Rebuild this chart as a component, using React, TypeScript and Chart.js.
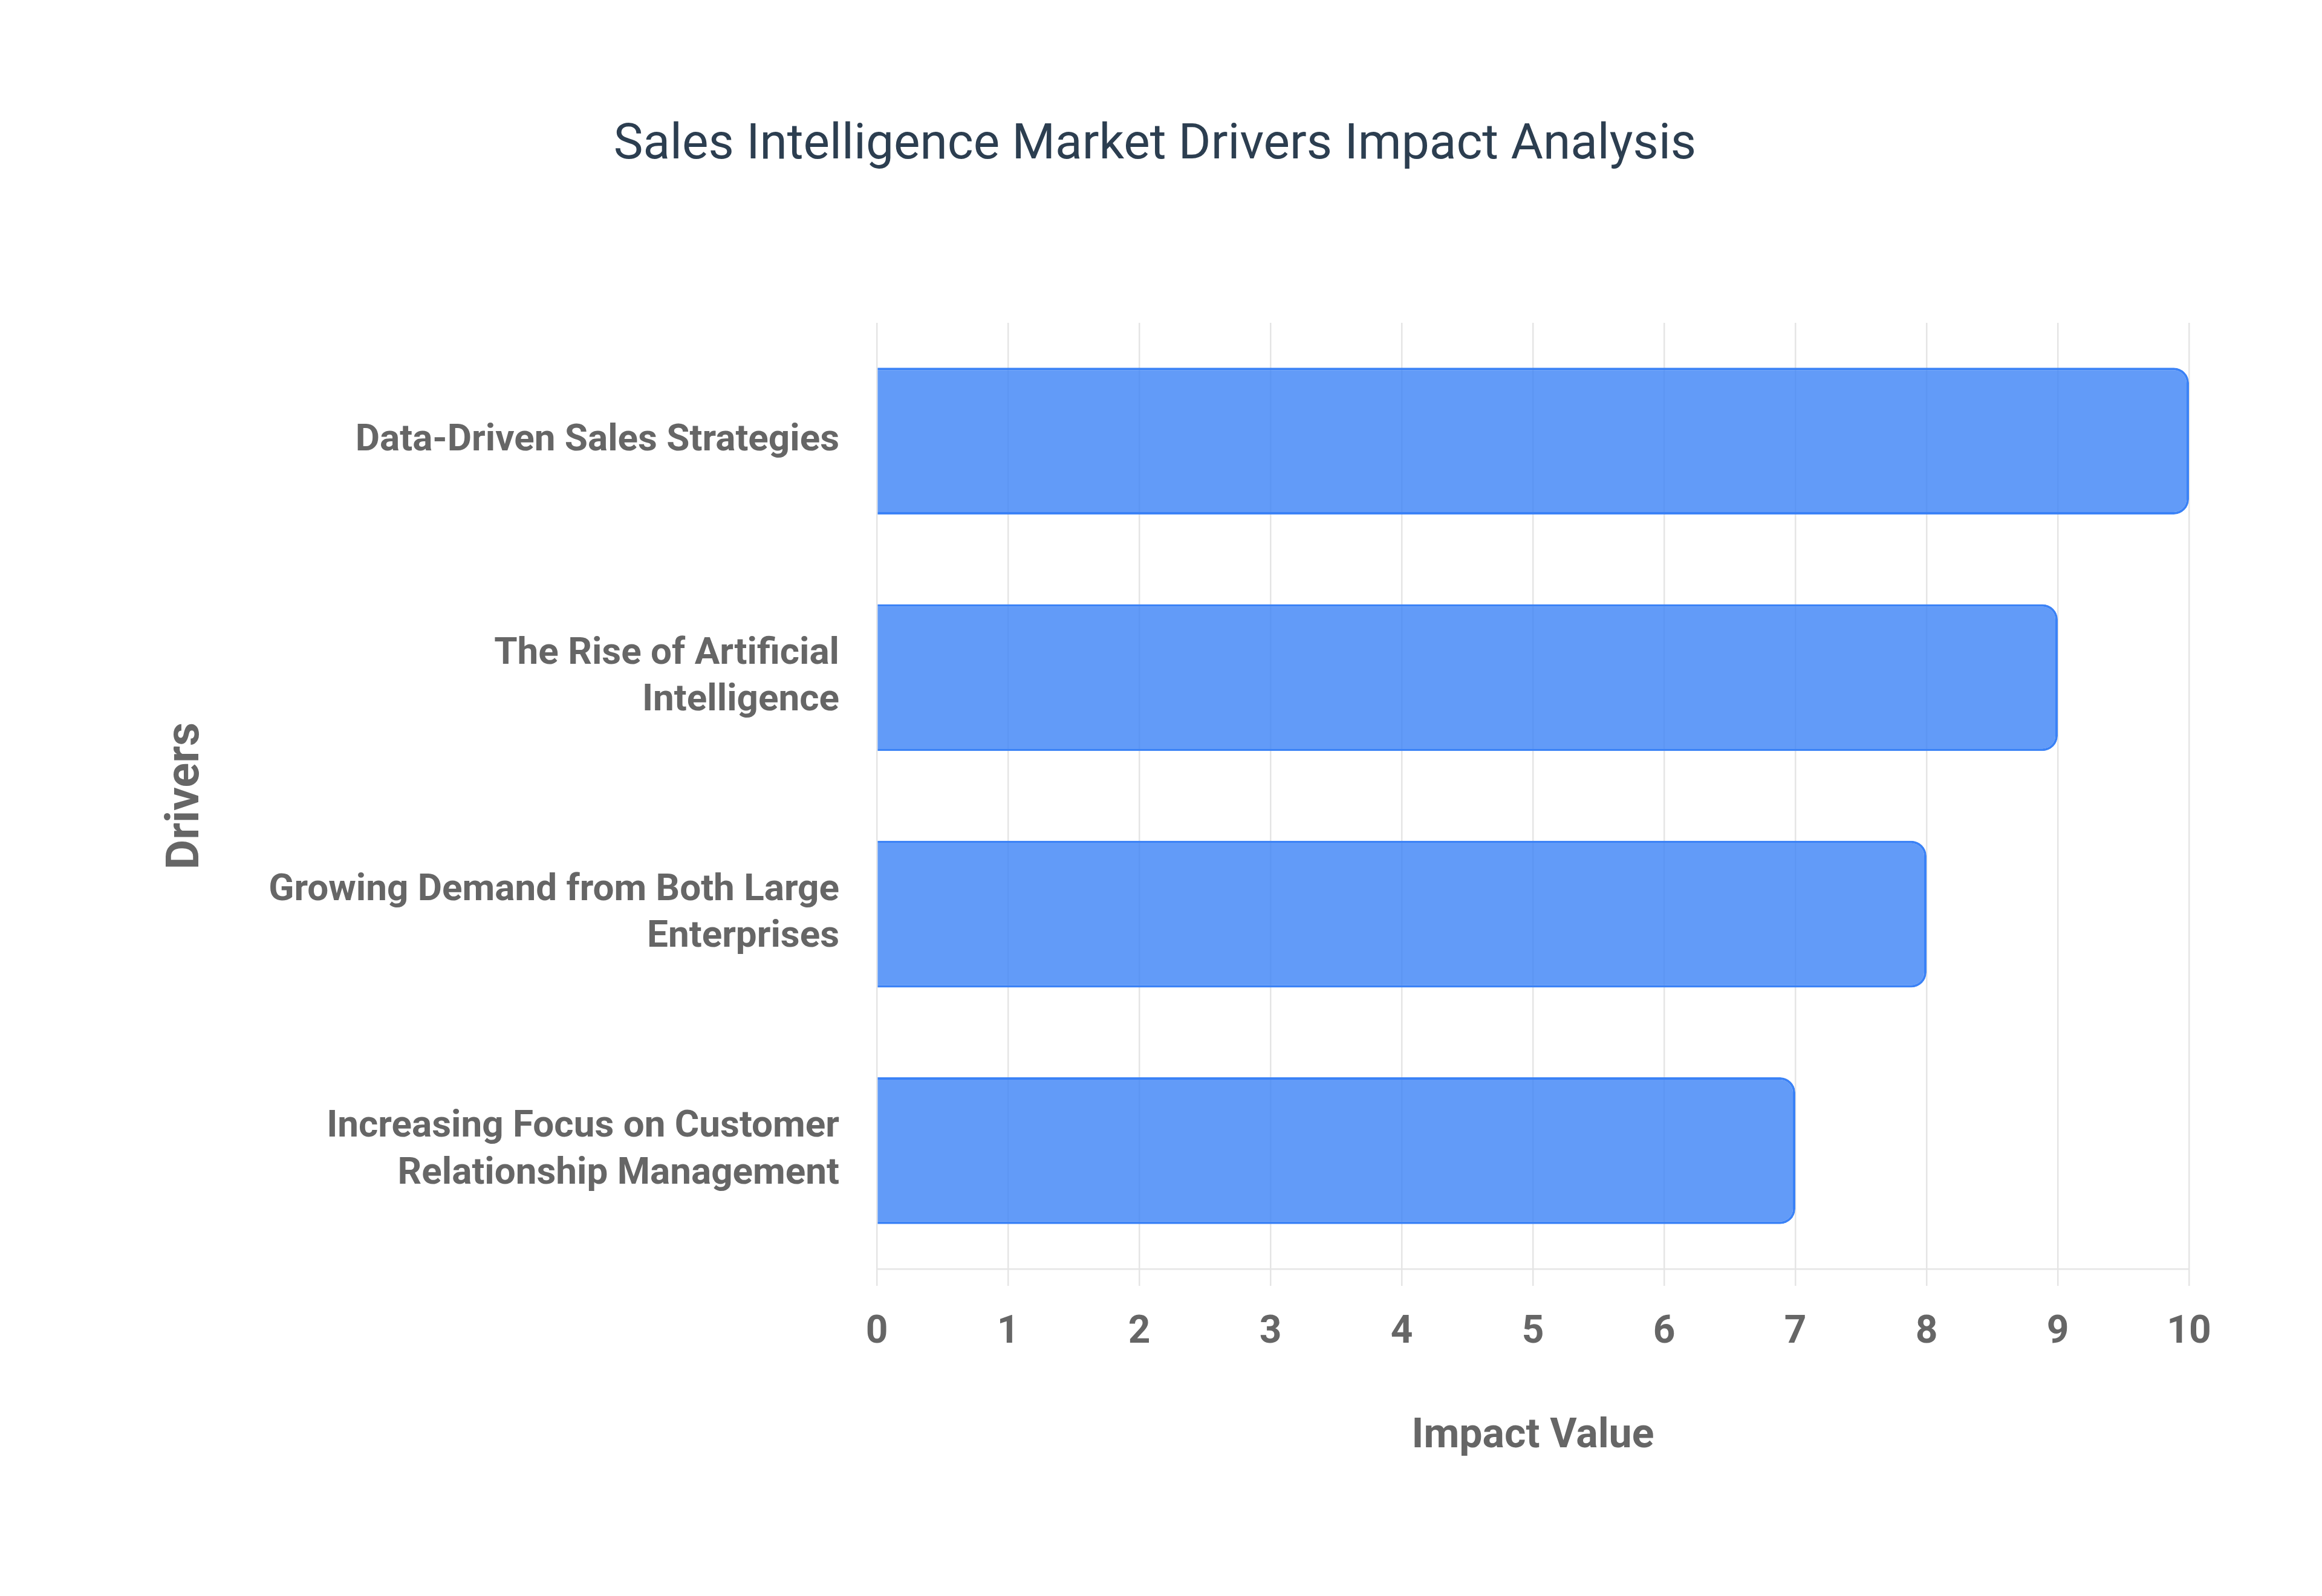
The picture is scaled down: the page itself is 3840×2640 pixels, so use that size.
import React, { useEffect, useRef } from "react";
import { Chart, registerables } from "chart.js";

Chart.register(...registerables);

const chartTitle = "Sales Intelligence Market Drivers Impact Analysis";
const categories: string[][] = [
  ["Data-Driven Sales Strategies"],
  ["The Rise of Artificial", "Intelligence"],
  ["Growing Demand from Both Large", "Enterprises"],
  ["Increasing Focus on Customer", "Relationship Management"],
];
const impactValues: number[] = [10, 9, 8, 7];
const xAxisTitle = "Impact Value";
const yAxisTitle = "Drivers";
const xMin = 0;
const xMax = 10;
const xStep = 1;

export default function App() {
  const canvasRef = useRef<HTMLCanvasElement | null>(null);

  useEffect(() => {
    document.body.style.margin = "0";
    const canvas = canvasRef.current;
    if (!canvas) return;
    const chart = new Chart(canvas, {
      type: "bar",
      data: {
        labels: categories,
        datasets: [
          {
            label: "Impact Value",
            data: impactValues,
            backgroundColor: "rgba(59,130,246,0.8)",
            borderColor: "#3b82f6",
            borderWidth: 4,
            borderRadius: 25,
            borderSkipped: "start",
            barPercentage: 0.62,
            categoryPercentage: 1,
          },
        ],
      },
      options: {
        indexAxis: "y",
        animation: false,
        responsive: false,
        devicePixelRatio: 1,
        layout: { padding: { left: 200, right: 220, top: 120, bottom: 100 } },
        plugins: {
          legend: { display: false },
          tooltip: { enabled: false },
          title: {
            display: true,
            text: chartTitle,
            color: "#2c3e50",
            font: { family: "Roboto", size: 82, weight: "normal", lineHeight: 1.2 },
            padding: { top: 72, bottom: 243.6 },
          },
        },
        scales: {
          x: {
            type: "linear",
            min: xMin,
            max: xMax,
            ticks: {
              stepSize: xStep,
              color: "#666",
              padding: 40,
              font: { family: "Roboto", size: 64, weight: "bold" },
            },
            grid: {
              color: "rgba(0,0,0,0.1)",
              lineWidth: 2.5,
              tickLength: 28,
            },
            border: { color: "rgba(0,0,0,0.1)", width: 2.5 },
            title: {
              display: true,
              text: xAxisTitle,
              color: "#666",
              font: { family: "Roboto", size: 68, weight: "bold", lineHeight: 1.2 },
              padding: { top: 0, bottom: 122 },
            },
            afterFit: (scale: any) => {
              scale.height = 441;
            },
          },
          y: {
            type: "category",
            ticks: {
              color: "#666",
              padding: 54,
              font: { family: "Roboto", size: 62, weight: "bold", lineHeight: 1.25 },
            },
            grid: { display: false },
            border: { display: false },
            title: {
              display: true,
              text: yAxisTitle,
              color: "#666",
              font: { family: "Roboto", size: 76, weight: "bold", lineHeight: 1.2 },
              padding: { top: 63, bottom: 0 },
            },
            afterFit: (scale: any) => {
              scale.width = 1250;
            },
          },
        },
      },
    });
    return () => chart.destroy();
  }, []);

  return (
    <div style={{ position: "absolute", left: 0, top: 0, width: 3840, height: 2640, background: "#fff" }}>
      <canvas ref={canvasRef} width={3840} height={2640} style={{ width: 3840, height: 2640, display: "block" }} />
    </div>
  );
}
